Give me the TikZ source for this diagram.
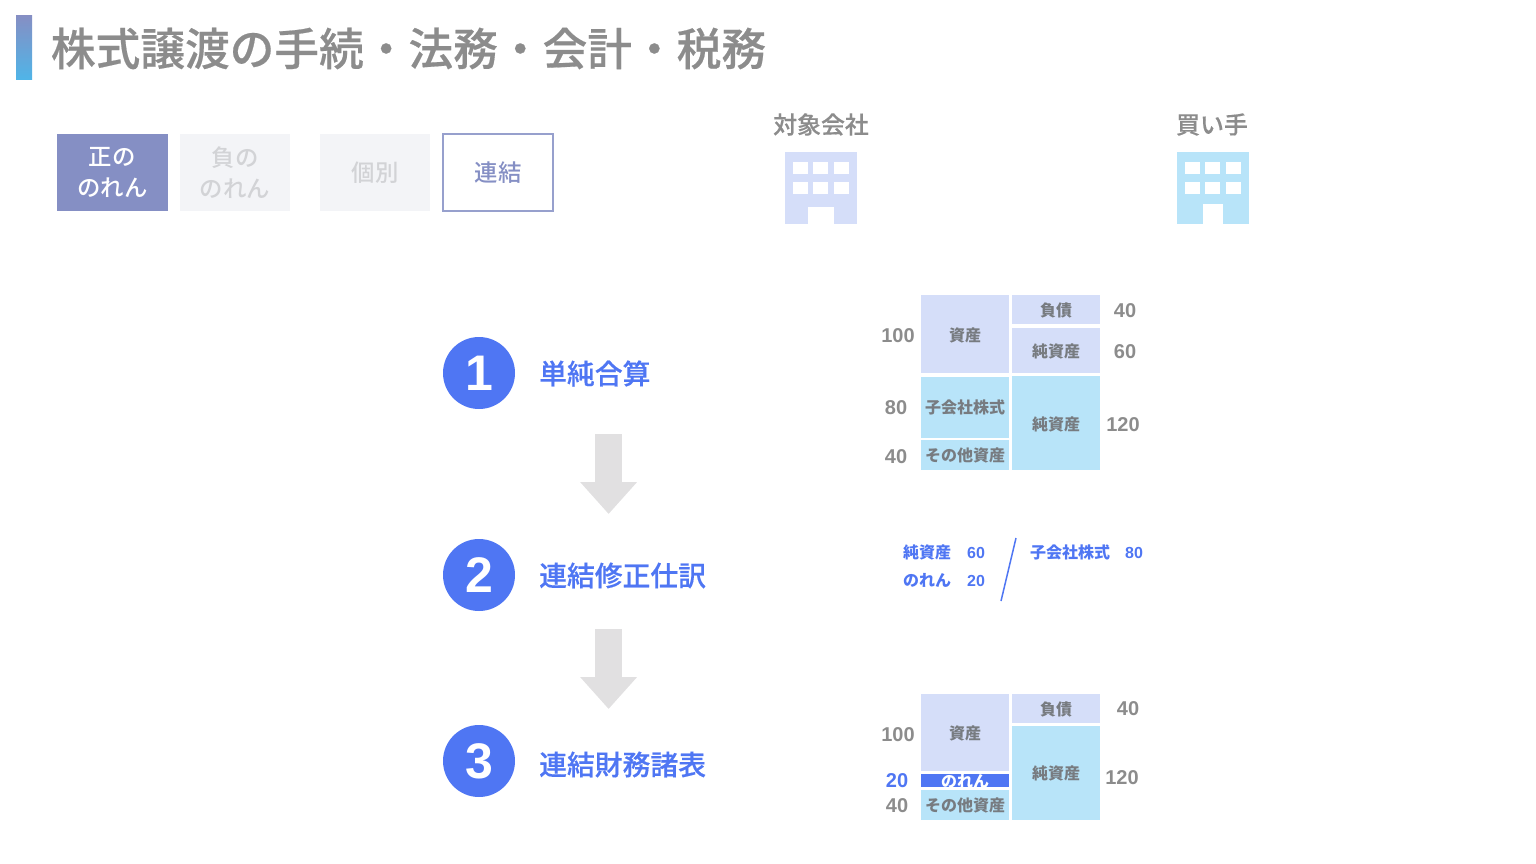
\documentclass[tikz,border=0pt]{standalone}
\usepackage{fontspec}
\usepackage{xcolor}
\usetikzlibrary{arrows.meta}
\setmainfont{Noto Sans CJK JP}[BoldFont={Noto Sans CJK JP Medium}]
\newfontfamily\heavyfont{Noto Sans CJK JP}
\newfontfamily\strongfont{Noto Sans CJK JP Medium}[FakeBold=0.4]
\newfontfamily\numfont{Liberation Sans}
\definecolor{titlegray}{HTML}{8C8C8C}
\definecolor{tagpurple}{HTML}{858FC4}
\definecolor{tagoff}{HTML}{F3F4F7}
\definecolor{tagofftext}{HTML}{D2D3D6}
\definecolor{stepblue}{HTML}{4F76F3}
\definecolor{paleblue}{HTML}{D5DEF9}
\definecolor{skyblue}{HTML}{B8E4F9}
\definecolor{arrowgray}{HTML}{E1E0E1}
\definecolor{cellgray}{HTML}{777B80}
\definecolor{barbottom}{HTML}{4FB5E8}
\tikzset{
  tagbox/.style={minimum width=110.5pt,minimum height=77pt,inner sep=0pt,align=center,font=\fontsize{23.4}{31}\selectfont\bfseries},
  steplabel/.style={anchor=west,inner sep=0pt,text=stepblue,font=\strongfont\fontsize{27.8}{32}\selectfont},
  stepnum/.style={circle,fill=stepblue,minimum size=72pt,inner sep=0pt,text=white,font=\numfont\fontsize{50}{50}\selectfont\bfseries},
  flowarrow/.style={draw=arrowgray,line width=27pt,-{Triangle[width=55pt,length=32pt]}},
  cell/.style={inner sep=0pt,text=cellgray,font=\heavyfont\fontsize{16}{18}\selectfont\bfseries},
  lowtext/.style={text height=14.6pt,text depth=1pt},
  amount/.style={inner sep=0pt,text=titlegray,font=\numfont\fontsize{20}{22}\selectfont\bfseries},
  journal/.style={inner sep=0pt,text=stepblue,font=\heavyfont\fontsize{16}{18}\selectfont\bfseries},
  journalnum/.style={inner sep=0pt,text=stepblue,font=\numfont\fontsize{16}{18}\selectfont\bfseries},
  company/.style={inner sep=0pt,text=titlegray,font=\strongfont\fontsize{23.9}{26}\selectfont}
}
\begin{document}
\begin{tikzpicture}[x=1pt,y=-1pt]
\useasboundingbox (0,0) rectangle (1536,864);
\shade[top color=tagpurple,bottom color=barbottom] (16,16) rectangle (32,80); % title bar
\node[anchor=west,inner sep=0pt,text=titlegray,font=\strongfont\fontsize{44.7}{50}\selectfont] (title) at (50.7,48.5) {株式譲渡の手続・法務・会計・税務};
% tags
\node[tagbox,fill=tagpurple,text=white] (tagplus) at (112.3,172.5) {正の\\のれん};
\node[tagbox,fill=tagoff,text=tagofftext] (tagminus) at (235,172.5) {負の\\のれん};
\node[tagbox,fill=tagoff,text=tagofftext] (tagsingle) at (375,172.5) {個別};
\node[tagbox,draw=tagpurple!85!white,line width=2pt,minimum width=110pt,minimum height=77pt,text=tagpurple] (tagconsol) at (498,172.5) {連結};
% companies
\node[company] (target) at (821,124.5) {対象会社};
\node[company] (buyer) at (1212,124.5) {買い手};
\foreach \bx/\bcol/\dl/\dr/\dt in {785/paleblue/23/49/207,1177/skyblue/26/46/204}{
\fill[\bcol] (\bx,152) rectangle (\bx+72,223.5);
\foreach \wx in {8,28,49}
\foreach \wy in {162,182}
\fill[white] (\bx+\wx,\wy) rectangle (\bx+\wx+15,\wy+12);
\fill[white] (\bx+\dl,\dt) rectangle (\bx+\dr,223.5);
}
% steps
\node[stepnum] (stepa) at (479,373) {1};
\node[stepnum] (stepb) at (479,575) {2};
\node[stepnum] (stepc) at (479,761) {3};
\node[steplabel] (labela) at (539,373.5) {単純合算};
\node[steplabel] (labelb) at (539,575.5) {連結修正仕訳};
\node[steplabel] (labelc) at (539,764.5) {連結財務諸表};
\coordinate (arrowatop) at (608.6,434);
\coordinate (arrowaend) at (608.6,514);
\coordinate (arrowbtop) at (608.6,629);
\coordinate (arrowbend) at (608.6,709);
\draw[flowarrow] (arrowatop) -- (arrowaend);
\draw[flowarrow] (arrowbtop) -- (arrowbend);
% balance sheets before
\node[cell,lowtext,fill=paleblue,minimum width=88pt,minimum height=78.5pt] (asseta) at (965,334.2) {資産};
\node[cell,fill=skyblue,minimum width=88pt,minimum height=61pt] (shares) at (965,407) {子会社株式};
\node[cell,fill=skyblue,minimum width=88pt,minimum height=30pt] (othera) at (965,455) {その他資産};
\node[cell,lowtext,fill=paleblue,minimum width=88pt,minimum height=29pt] (debta) at (1056,309.5) {負債};
\node[cell,lowtext,fill=paleblue,minimum width=88pt,minimum height=45.5pt] (equitya) at (1056,350.7) {純資産};
\node[cell,lowtext,fill=skyblue,minimum width=88pt,minimum height=93.5pt] (equityb) at (1056,423.2) {純資産};
\node[amount] (numa) at (898,335.5) {100};
\node[amount] (numb) at (896,407.5) {80};
\node[amount] (numc) at (896,456.5) {40};
\node[amount] (numd) at (1125,310.5) {40};
\node[amount] (nume) at (1125,351.5) {60};
\node[amount] (numf) at (1123,424.5) {120};
% journal entry
\node[journal,anchor=west] (jequity) at (903,552) {純資産};
\node[journalnum] (jsixty) at (976,552.5) {60};
\node[journal,anchor=west] (jgood) at (903,580) {のれん};
\node[journalnum] (jtwenty) at (976,580.5) {20};
\node[journal,anchor=west] (jshares) at (1030,552) {子会社株式};
\node[journalnum] (jeighty) at (1134,552.5) {80};
\coordinate (slashtop) at (1016,538);
\coordinate (slashend) at (1001,601);
\draw[stepblue,line width=1.5pt] (slashtop) -- (slashend);
% balance sheet after
\node[cell,lowtext,fill=paleblue,minimum width=88pt,minimum height=77pt] (assetc) at (965,732.5) {資産};
\node[cell,fill=stepblue,minimum width=88pt,minimum height=13pt] (goodwillbar) at (965,780.5) {};
\node[cell,fill=skyblue,minimum width=88pt,minimum height=30pt] (otherc) at (965,805) {その他資産};
\node[cell,text=white] (goodwill) at (965,781) {のれん};
\node[cell,lowtext,fill=paleblue,minimum width=88pt,minimum height=29pt] (debtc) at (1056,708.5) {負債};
\node[cell,lowtext,fill=skyblue,minimum width=88pt,minimum height=94pt] (equityc) at (1056,773) {純資産};
\node[amount] (numg) at (898,734.5) {100};
\node[amount,text=stepblue] (numh) at (897,781) {20};
\node[amount] (numi) at (897,805.5) {40};
\node[amount] (numj) at (1128,708.5) {40};
\node[amount] (numk) at (1122,777.5) {120};
\end{tikzpicture}
\end{document}
